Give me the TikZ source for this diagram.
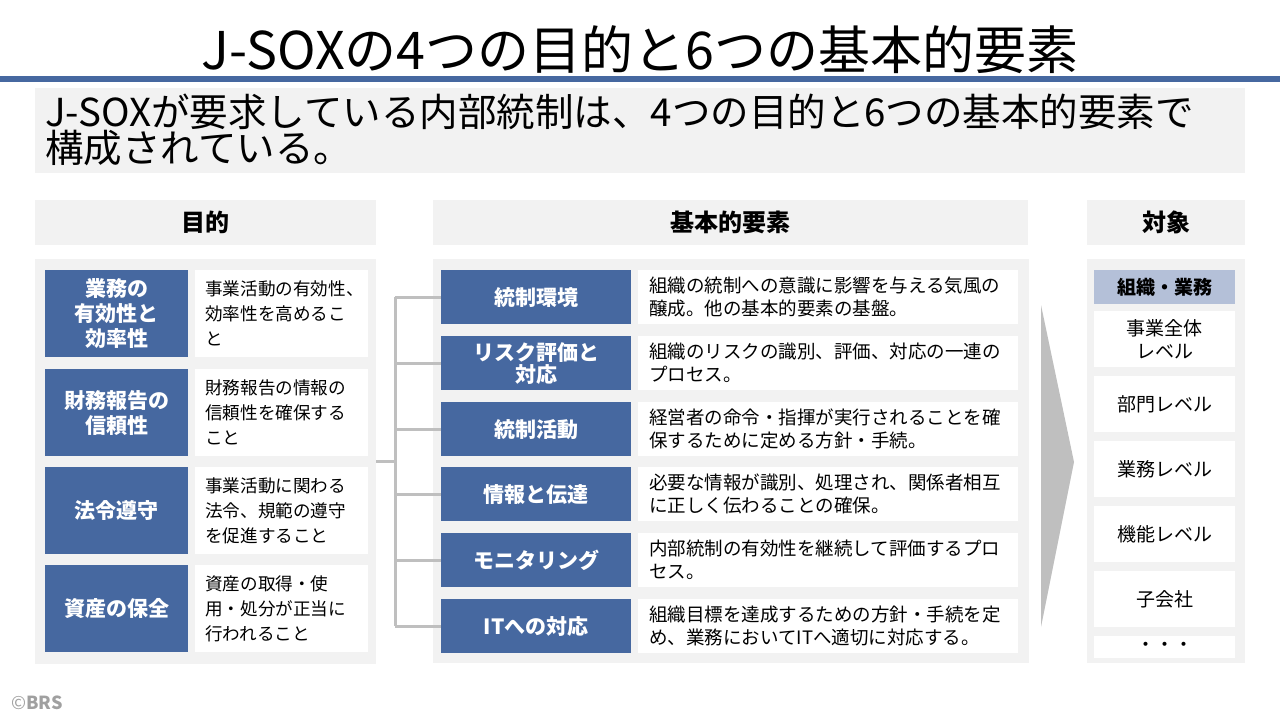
\documentclass[tikz,border=0pt]{standalone}
\usepackage{fontspec}
\setmainfont{Noto Sans CJK JP}
\usetikzlibrary{positioning}

\definecolor{boxblue}{RGB}{70,104,160}
\definecolor{panelgray}{RGB}{242,242,242}
\definecolor{linegray}{RGB}{191,191,191}
\definecolor{pickblue}{RGB}{180,192,216}
\definecolor{markgray}{RGB}{160,160,160}

\newcommand{\fsz}[2]{\fontsize{#1}{#2}\selectfont}

\tikzset{
  panel/.style={fill=panelgray, anchor=north west, inner sep=0pt},
  headbox/.style={panel, minimum height=45pt, font=\bfseries\fsz{24}{28}},
  goalbox/.style={fill=boxblue, text=white, anchor=north west, inner sep=0pt,
    minimum width=143pt, minimum height=87pt, align=center, font=\bfseries\fsz{21}{25}},
  goaltext/.style={fill=white, anchor=north west, inner xsep=10pt, inner ysep=0pt,
    text width=153pt, minimum height=87pt, align=left, font=\fsz{17.6}{25}},
  elembox/.style={fill=boxblue, text=white, anchor=north west, inner sep=0pt,
    minimum width=190pt, minimum height=54pt, align=center, font=\bfseries\fsz{21}{22}},
  elemtext/.style={fill=white, anchor=north west, inner xsep=11pt, inner ysep=0pt,
    text width=358pt, minimum height=54pt, align=left, font=\fsz{18.5}{23}},
  scopebox/.style={fill=white, anchor=north west, inner sep=0pt,
    minimum width=141pt, minimum height=56pt, align=center, font=\fsz{19}{23}},
  connector/.style={draw=linegray, line width=3pt}
}

\begin{document}
\begin{tikzpicture}[x=1pt,y=-1pt]
\useasboundingbox (0,0) rectangle (1280,720);

% title
\node[font=\fsz{52}{56}] (title) at (640,50) {J-SOXの4つの目的と6つの基本的要素};
\fill[boxblue] (0,76) rectangle (1280,82);

% summary
\node[panel, minimum width=1210pt, minimum height=85pt] (summary) at (35,88) {};
\node[anchor=west, align=left, inner sep=0pt, font=\fsz{38.5}{35}] (summarytext) at (45,130)
  {J-SOXが要求している内部統制は、4つの目的と6つの基本的要素で\\構成されている。};

% headers
\node[headbox, minimum width=341pt] (goalhead) at (35,200) {目的};
\node[headbox, minimum width=595pt] (elemhead) at (433,200) {基本的要素};
\node[headbox, minimum width=158pt] (scopehead) at (1087,200) {対象};

% goals
\node[panel, minimum width=341pt, minimum height=405pt] (goalpanel) at (35,259) {};
\node[goalbox] (goal1) at (45,270) {業務の\\有効性と\\効率性};
\node[goaltext] (goaltext1) at (195,270) {事業活動の有効性、\\効率性を高めるこ\\と};
\node[goalbox] (goal2) at (45,369) {財務報告の\\信頼性};
\node[goaltext] (goaltext2) at (195,369) {財務報告の情報の\\信頼性を確保する\\こと};
\node[goalbox] (goal3) at (45,467) {法令遵守};
\node[goaltext] (goaltext3) at (195,467) {事業活動に関わる\\法令、規範の遵守\\を促進すること};
\node[goalbox] (goal4) at (45,565) {資産の保全};
\node[goaltext] (goaltext4) at (195,565) {資産の取得・使\\用・処分が正当に\\行われること};

% basic elements
\node[panel, minimum width=596pt, minimum height=404pt] (elempanel) at (433,259) {};
\node[elembox] (elem1) at (441,270) {統制環境};
\node[elemtext] (elemtext1) at (638,270) {組織の統制への意識に影響を与える気風の\\醸成。他の基本的要素の基盤。};
\node[elembox] (elem2) at (441,336) {リスク評価と\\対応};
\node[elemtext] (elemtext2) at (638,336) {組織のリスクの識別、評価、対応の一連の\\プロセス。};
\node[elembox] (elem3) at (441,402) {統制活動};
\node[elemtext] (elemtext3) at (638,402) {経営者の命令・指揮が実行されることを確\\保するために定める方針・手続。};
\node[elembox] (elem4) at (441,467) {情報と伝達};
\node[elemtext] (elemtext4) at (638,467) {必要な情報が識別、処理され、関係者相互\\に正しく伝わることの確保。};
\node[elembox] (elem5) at (441,533) {モニタリング};
\node[elemtext] (elemtext5) at (638,533) {内部統制の有効性を継続して評価するプロ\\セス。};
\node[elembox] (elem6) at (441,599) {ITへの対応};
\node[elemtext] (elemtext6) at (638,599) {組織目標を達成するための方針・手続を定\\め、業務においてITへ適切に対応する。};

% links goals -> elements
\draw[connector] (goalpanel.east) -- ++(19,0) coordinate (hub);
\draw[connector] (hub |- elem1.west) -- (hub |- elem6.west);
\foreach \n in {1,...,6}
  \draw[connector] (hub |- elem\n.west) -- (elem\n.west);

% chevron
\fill[linegray] (1041,305) -- (1074,462) -- (1041,627) -- cycle;

% scope
\node[panel, minimum width=158pt, minimum height=404pt] (scopepanel) at (1087,259) {};
\node[scopebox, fill=pickblue, minimum height=34pt, font=\bfseries\fsz{19}{23}] (scope0) at (1094,270) {組織・業務};
\node[scopebox] (scope1) at (1094,311) {事業全体\\レベル};
\node[scopebox] (scope2) at (1094,376) {部門レベル};
\node[scopebox] (scope3) at (1094,441) {業務レベル};
\node[scopebox] (scope4) at (1094,506) {機能レベル};
\node[scopebox] (scope5) at (1094,571) {子会社};
\node[scopebox, minimum height=22pt] (scope6) at (1094,636) {・・・};

% mark
\node[anchor=west, inner sep=0pt, text=markgray, font=\fsz{18}{20}] (mark) at (11,703) {©\textbf{BRS}};

\end{tikzpicture}
\end{document}
